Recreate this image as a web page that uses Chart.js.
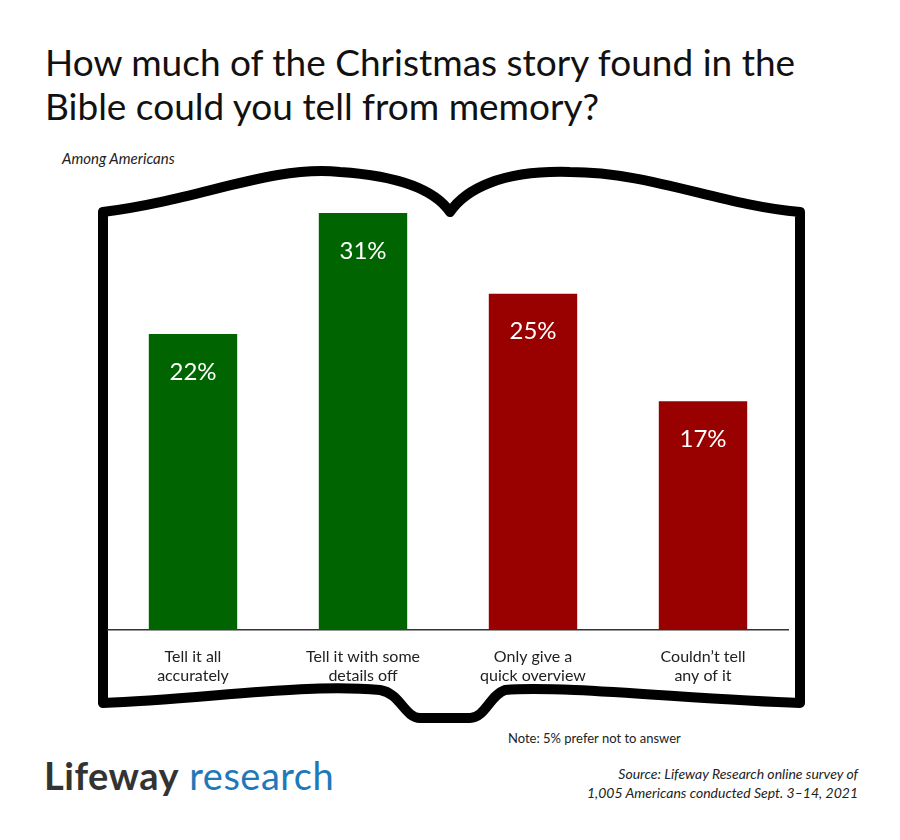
<!DOCTYPE html>
<html><head><meta charset="utf-8">
<script src="https://cdn.jsdelivr.net/npm/chart.js@4"></script>
<style>
body{margin:0;width:900px;height:840px;background:#fff;font-family:Lato,sans-serif;position:relative;overflow:hidden}
#t{position:absolute;left:45px;top:40px;font-size:37px;line-height:44px;color:#111;font-weight:400}
#s{position:absolute;left:62px;top:149px;font-size:15px;font-style:italic;color:#222}
#n{position:absolute;left:508px;top:730px;font-size:13px;color:#222}
#logo{position:absolute;left:44px;top:752px;font-size:38px;letter-spacing:0.5px}
#src{position:absolute;right:42px;top:764px;font-size:14px;font-style:italic;text-align:right;line-height:19px;color:#222}
canvas{position:absolute;left:0;top:0}
</style></head><body>
<div id="t">How much of the Christmas story found in the<br>Bible could you tell from memory?</div>
<div id="s">Among Americans</div>
<div id="n">Note: 5% prefer not to answer</div>
<div id="logo"><span style="font-weight:700;color:#333">Lifeway</span><span style="color:#1f78b8"> research</span></div>
<div id="src">Source: Lifeway Research online survey of<br>1,005 Americans conducted Sept. 3–14, 2021</div>
<div style="position:absolute;left:0;top:0;width:900px;height:840px"><canvas id="c"></canvas></div>
<script>
const categories=[["Tell it all","accurately"],["Tell it with some","details off"],["Only give a","quick overview"],["Couldn’t tell","any of it"]];
const values=[22,31,25,17];
const colors=["#006400","#006400","#990000","#990000"];
const book={id:'book',beforeDraw(ch){const c=ch.ctx;c.save();c.lineWidth=10;c.strokeStyle='#000';c.lineJoin='round';c.beginPath();
c.moveTo(103,212);c.bezierCurveTo(200,200,270,165,340,172);c.bezierCurveTo(400,176,435,190,450,212);
c.bezierCurveTo(465,190,500,170,570,172);c.bezierCurveTo(650,172,720,205,800,212);
c.lineTo(800,703);c.bezierCurveTo(700,700,560,685,505,690);c.bezierCurveTo(490,695,485,718,470,718);
c.lineTo(420,718);c.bezierCurveTo(405,718,400,693,380,690);c.bezierCurveTo(300,683,200,700,103,703);c.closePath();c.stroke();c.restore();},
afterDatasetsDraw(ch){const c=ch.ctx;const m=ch.getDatasetMeta(0);c.save();c.fillStyle='#fff';c.font='24px Lato';c.textAlign='center';c.textBaseline='middle';
m.data.forEach((b,i)=>c.fillText(values[i]+'%',b.x,b.y+38));c.restore();}};
new Chart(document.getElementById('c'),{type:'bar',data:{labels:categories,datasets:[{data:values,backgroundColor:colors,barPercentage:1,categoryPercentage:0.52}]},
options:{responsive:true,maintainAspectRatio:false,animation:false,layout:{padding:{left:108,right:112,top:213,bottom:150}},
plugins:{legend:{display:false},tooltip:{enabled:false}},
scales:{y:{display:false,min:0,max:31},x:{grid:{display:false},border:{display:true,color:'#333',width:1.5},afterFit:s=>{s.height=60},ticks:{color:'#222',font:{family:'Lato',size:16},padding:9}}}},plugins:[book]});
</script></body></html>
